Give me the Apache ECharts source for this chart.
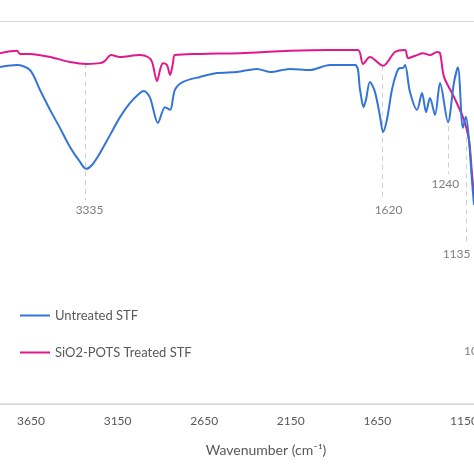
<!DOCTYPE html>
<html>
<head>
<meta charset="utf-8">
<script src="https://cdn.jsdelivr.net/npm/echarts@6/dist/echarts.min.js"></script>
<style>
  html, body { margin: 0; padding: 0; background: #fff; }
  #chart { width: 474px; height: 474px; }
</style>
</head>
<body>
<div id="chart"></div>
<script>
// wavenumber (cm-1) and transmittance
const untreatedWave = [3829, 3731, 3656, 3598, 3540, 3483, 3425, 3367, 3332, 3298, 3252, 3194, 3136, 3078, 3021, 2998, 2963, 2917, 2876, 2847, 2819, 2772, 2674, 2576, 2461, 2345, 2270, 2155, 2039, 1924, 1779, 1750, 1730, 1716, 1693, 1664, 1635, 1617, 1594, 1566, 1537, 1519, 1502, 1490, 1462, 1421, 1392, 1369, 1346, 1317, 1288, 1242, 1208, 1185, 1156, 1139, 1121, 1104, 1092]
const untreatedT = [88.0, 88.5, 87.2, 82.0, 76.8, 72.1, 67.1, 63.2, 61.4, 62.4, 65.5, 70.2, 74.9, 78.6, 81.2, 81.7, 80.0, 73.4, 77.5, 76.8, 82.0, 84.1, 85.4, 86.4, 86.7, 87.5, 86.7, 87.5, 87.2, 88.5, 88.5, 82.0, 77.5, 79.4, 84.1, 81.5, 75.2, 71.0, 74.4, 82.0, 86.7, 87.7, 87.7, 88.5, 81.5, 76.8, 81.2, 76.2, 79.9, 75.5, 83.8, 73.6, 83.8, 87.9, 72.1, 75.0, 68.9, 58.5, 52.0]

const treatedWave = [3829, 3731, 3713, 3656, 3540, 3425, 3327, 3252, 3223, 3188, 3136, 3021, 2975, 2951, 2922, 2905, 2888, 2865, 2847, 2830, 2819, 2674, 2443, 2155, 1924, 1762, 1733, 1693, 1617, 1548, 1490, 1473, 1421, 1387, 1346, 1306, 1288, 1265, 1208, 1150, 1121, 1104, 1092]
const treatedT = [91.6, 92.2, 91.4, 91.4, 90.6, 89.3, 88.8, 89.0, 89.6, 91.1, 90.6, 91.1, 90.6, 89.3, 84.3, 87.2, 89.0, 88.5, 85.9, 89.0, 91.1, 91.4, 91.6, 92.2, 92.4, 92.4, 88.8, 90.6, 88.3, 91.9, 92.4, 90.3, 91.1, 91.6, 91.1, 91.9, 91.6, 85.4, 80.2, 74.2, 69.0, 60.3, 54.6]

const seriesNames = ['Untreated STF', 'SiO2-POTS Treated STF']
const tickValues = [3650, 3150, 2650, 2150, 1650, 1150]

// peak annotations: label, wavenumber, dashed line from / to (transmittance)
const peakLabels = ['3335', '1620', '1240', '1135', '1060']
const peakWave = [3335, 1620, 1240, 1135, 1069]
const peakFrom = [89.0, 88.3, 72.5, 72.0, 50.0]
const peakTo = [53.3, 53.3, 60.1, 41.8, 16.5]
const peakShift = [4, 6, -3, -10, 0]

const chart = echarts.init(document.getElementById('chart'))

const pair = (xs, ys) => xs.map((x, i) => [x, ys[i]])

const marks = peakLabels.map((lab, i) => [
  { coord: [peakWave[i], peakFrom[i]] },
  { coord: [peakWave[i], peakTo[i]], label: { formatter: lab, offset: [peakShift[i], 0] } }
])

const font = 'Lato, "Open Sans", sans-serif'

chart.setOption({
  animation: false,
  textStyle: { fontFamily: font },
  // grid runs past the right edge, the original figure was cropped there
  grid: { left: 0, top: 21, width: 514, height: 383, containLabel: false, outerBoundsMode: 'none' },
  legend: {
    orient: 'vertical',
    left: 20,
    top: 309,
    padding: 0,
    icon: 'rect',
    itemWidth: 30,
    itemHeight: 2,
    itemGap: 24,
    textStyle: { fontSize: 13, color: '#595959', fontFamily: font },
    data: seriesNames
  },
  xAxis: {
    type: 'value',
    min: 861,
    max: 3829,
    inverse: true,
    axisLine: { lineStyle: { color: '#d9d9d9', width: 1.5 } },
    axisTick: { show: false },
    splitLine: { show: false },
    axisLabel: {
      customValues: tickValues,
      formatter: v => String(v),
      color: '#595959',
      fontSize: 12,
      margin: 11
    }
  },
  yAxis: {
    type: 'value',
    min: 0,
    max: 100,
    interval: 100,
    axisLine: { show: false },
    axisTick: { show: false },
    axisLabel: { show: false },
    splitLine: { lineStyle: { color: '#d9d9d9', width: 1 } }
  },
  graphic: [{
    type: 'text',
    x: 266,
    y: 443,
    style: { text: 'Wavenumber (cm⁻¹)', fill: '#595959', font: '14px ' + font, align: 'center' }
  }],
  series: [
    {
      name: seriesNames[0],
      type: 'line',
      symbol: 'none',
      smooth: 0.3,
      lineStyle: { color: '#3375d6', width: 2 },
      itemStyle: { color: '#3375d6' },
      data: pair(untreatedWave, untreatedT),
      z: 3
    },
    {
      name: seriesNames[1],
      type: 'line',
      symbol: 'none',
      smooth: 0.3,
      lineStyle: { color: '#e0188a', width: 2 },
      itemStyle: { color: '#e0188a' },
      data: pair(treatedWave, treatedT),
      z: 2,
      markLine: {
        silent: true,
        symbol: 'none',
        lineStyle: { color: '#cfcfcf', type: [5, 4], width: 1 },
        label: { position: 'end', color: '#7f7f7f', fontSize: 12, distance: 4, fontFamily: font },
        data: marks,
        z: 1
      }
    }
  ]
})
</script>
</body>
</html>
